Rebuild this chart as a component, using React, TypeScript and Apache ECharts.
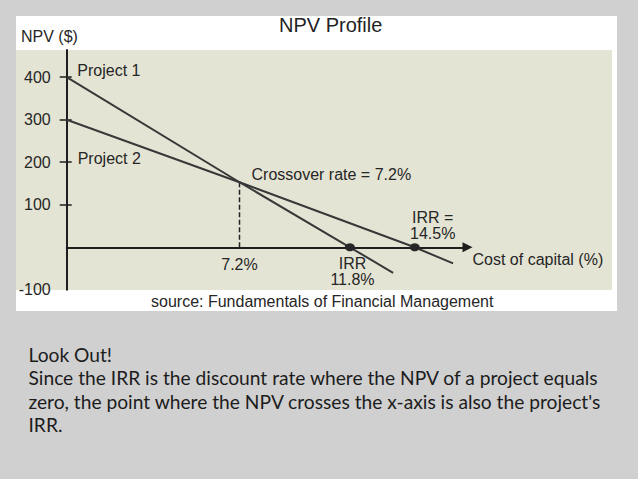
import React, { useEffect, useRef } from 'react';
import * as echarts from 'echarts';

// ---- data ----
const yTickLabels = [400, 300, 200, 100, -100];
const yTickMarks = [400, 300, 200, 100];
const projectNames = ['Project 1', 'Project 2'];
const project1Rate = [0, 7.2, 11.8, 13.6];
const project1NPV = [400, 153, 0, -60];
const project2Rate = [0, 7.2, 14.5, 16.1];
const project2NPV = [300, 153, 0, -38];
const crossoverRate = 7.2;
const crossoverNPV = 153;
const irrRates = [11.8, 14.5];
const noteLines = [
  'Look Out!',
  'Since the IRR is the discount rate where the NPV of a project equals',
  "zero, the point where the NPV crosses the x-axis is also the project's",
  'IRR.',
];

export default function App() {
  const ref = useRef<HTMLDivElement>(null);
  useEffect(() => {
    const chart = echarts.init(ref.current!, null, { renderer: 'svg' });
    const F = '"Liberation Sans", Arial, sans-serif';
    const TC = '#262626';
    const LC = '#383838';
    const lbl = (text: string, dx: number, dy: number, align = 'left', lineHeight = 18) => ({
      show: true,
      position: 'inside',
      formatter: text,
      offset: [dx, dy],
      align,
      verticalAlign: 'middle',
      color: TC,
      opacity: 1,
      textBorderWidth: 0,
      fontFamily: F,
      fontSize: 16,
      lineHeight,
    });
    const zip = (xs: number[], ys: number[]) => xs.map((x, i) => [x, ys[i]]);

    chart.setOption({
      animation: false,
      backgroundColor: '#d0d0d0',
      title: [
        { text: 'NPV Profile', left: 279, top: 15, padding: 0, textStyle: { fontFamily: F, fontSize: 20, fontWeight: 'normal', color: '#232323', lineHeight: 20 } },
        { text: 'NPV ($)', left: 21, top: 28, padding: 0, textStyle: { fontFamily: F, fontSize: 16, fontWeight: 'normal', color: TC, lineHeight: 16 } },
        { text: 'source: Fundamentals of Financial Management', left: 151, top: 293, padding: 0, textStyle: { fontFamily: F, fontSize: 16, fontWeight: 'normal', color: TC, lineHeight: 16 } },
      ],
      graphic: [
        { type: 'rect', z: -10, shape: { x: 16, y: 16, width: 601, height: 295 }, style: { fill: '#ffffff' } },
        { type: 'rect', z: -9, shape: { x: 16, y: 50, width: 596, height: 240 }, style: { fill: '#e4e4d4' } },
        ...noteLines.map((t, i) => ({
          type: 'text',
          z: 10,
          style: {
            text: t,
            x: 28.5,
            y: [354, 377.5, 401, 424.5][i],
            fontFamily: 'Lato, sans-serif',
            fontSize: 19.2,
            fill: '#1c1c1c',
            verticalAlign: 'middle',
          },
        })),
      ],
      grid: { left: 66.7, top: 50, right: 170.5, bottom: 189.2, containLabel: false },
      xAxis: {
        type: 'value',
        min: 0,
        max: 16.7,
        name: 'Cost of capital (%)',
        nameLocation: 'end',
        nameGap: 5,
        nameTextStyle: { fontFamily: F, fontSize: 16, color: TC, verticalAlign: 'top', align: 'left', padding: [4, 0, 0, 0] },
        axisLine: { show: true, onZero: true, symbol: ['none', 'triangle'], symbolSize: [10, 10], lineStyle: { color: '#1e1e1e', width: 2 } },
        axisTick: { show: false },
        axisLabel: { show: false },
        splitLine: { show: false },
      },
      yAxis: [
        {
          type: 'value',
          min: -100,
          max: 464,
          axisLine: { show: true, lineStyle: { color: '#1e1e1e', width: 2 } },
          axisTick: { show: true, customValues: yTickMarks, length: 7, lineStyle: { color: '#1e1e1e', width: 1.5 } },
          axisLabel: { show: true, customValues: yTickLabels, margin: 16, fontFamily: F, fontSize: 16, color: TC },
          splitLine: { show: false },
        },
        {
          type: 'value',
          min: -100,
          max: 464,
          position: 'left',
          axisLine: { show: false },
          axisTick: { show: true, inside: true, customValues: yTickMarks, length: 5, lineStyle: { color: '#1e1e1e', width: 1.5 } },
          axisLabel: { show: false },
          splitLine: { show: false },
        },
      ],
      series: [
        {
          name: projectNames[0],
          type: 'line',
          data: zip(project1Rate, project1NPV),
          showSymbol: false,
          symbol: 'none',
          silent: true,
          lineStyle: { color: LC, width: 2 },
          z: 3,
        },
        {
          name: projectNames[1],
          type: 'line',
          data: zip(project2Rate, project2NPV),
          showSymbol: false,
          symbol: 'none',
          silent: true,
          lineStyle: { color: LC, width: 2 },
          z: 3,
        },
        {
          name: 'crossover',
          type: 'line',
          data: [[crossoverRate, 0], [crossoverRate, crossoverNPV]],
          symbol: 'none',
          silent: true,
          lineStyle: { color: '#222', width: 1.5, type: [5, 2.5] },
          z: 2,
        },
        {
          name: 'IRR',
          type: 'scatter',
          data: irrRates.map((r) => [r, 0]),
          symbol: 'circle',
          symbolSize: [10, 8],
          silent: true,
          itemStyle: { color: '#262626', opacity: 1 },
          z: 5,
        },
        {
          name: 'labels',
          type: 'scatter',
          symbolSize: 1,
          silent: true,
          itemStyle: { color: 'rgba(0,0,0,0)', opacity: 1 },
          z: 6,
          data: [
            { value: [project1Rate[0], project1NPV[0]], label: lbl(projectNames[0], 10.6, -7.2) },
            { value: [project2Rate[0], project2NPV[0]], label: lbl(projectNames[1], 11, 38.6) },
            { value: [crossoverRate, crossoverNPV], label: lbl(`Crossover rate = ${crossoverRate}%`, 12, -8) },
            { value: [crossoverRate, 0], label: lbl(`${crossoverRate}%`, 0, 17, 'center') },
            { value: [irrRates[0], 0], label: lbl(`IRR\n${irrRates[0]}%`, 2.6, 24, 'center', 16) },
            { value: [irrRates[1], 0], label: lbl(`IRR =\n${irrRates[1]}%`, 18, -22, 'center', 16) },
          ],
        },
      ],
    });
    return () => chart.dispose();
  }, []);
  return <div ref={ref} style={{ position: 'fixed', left: 0, top: 0, width: 638, height: 479 }} />;
}
